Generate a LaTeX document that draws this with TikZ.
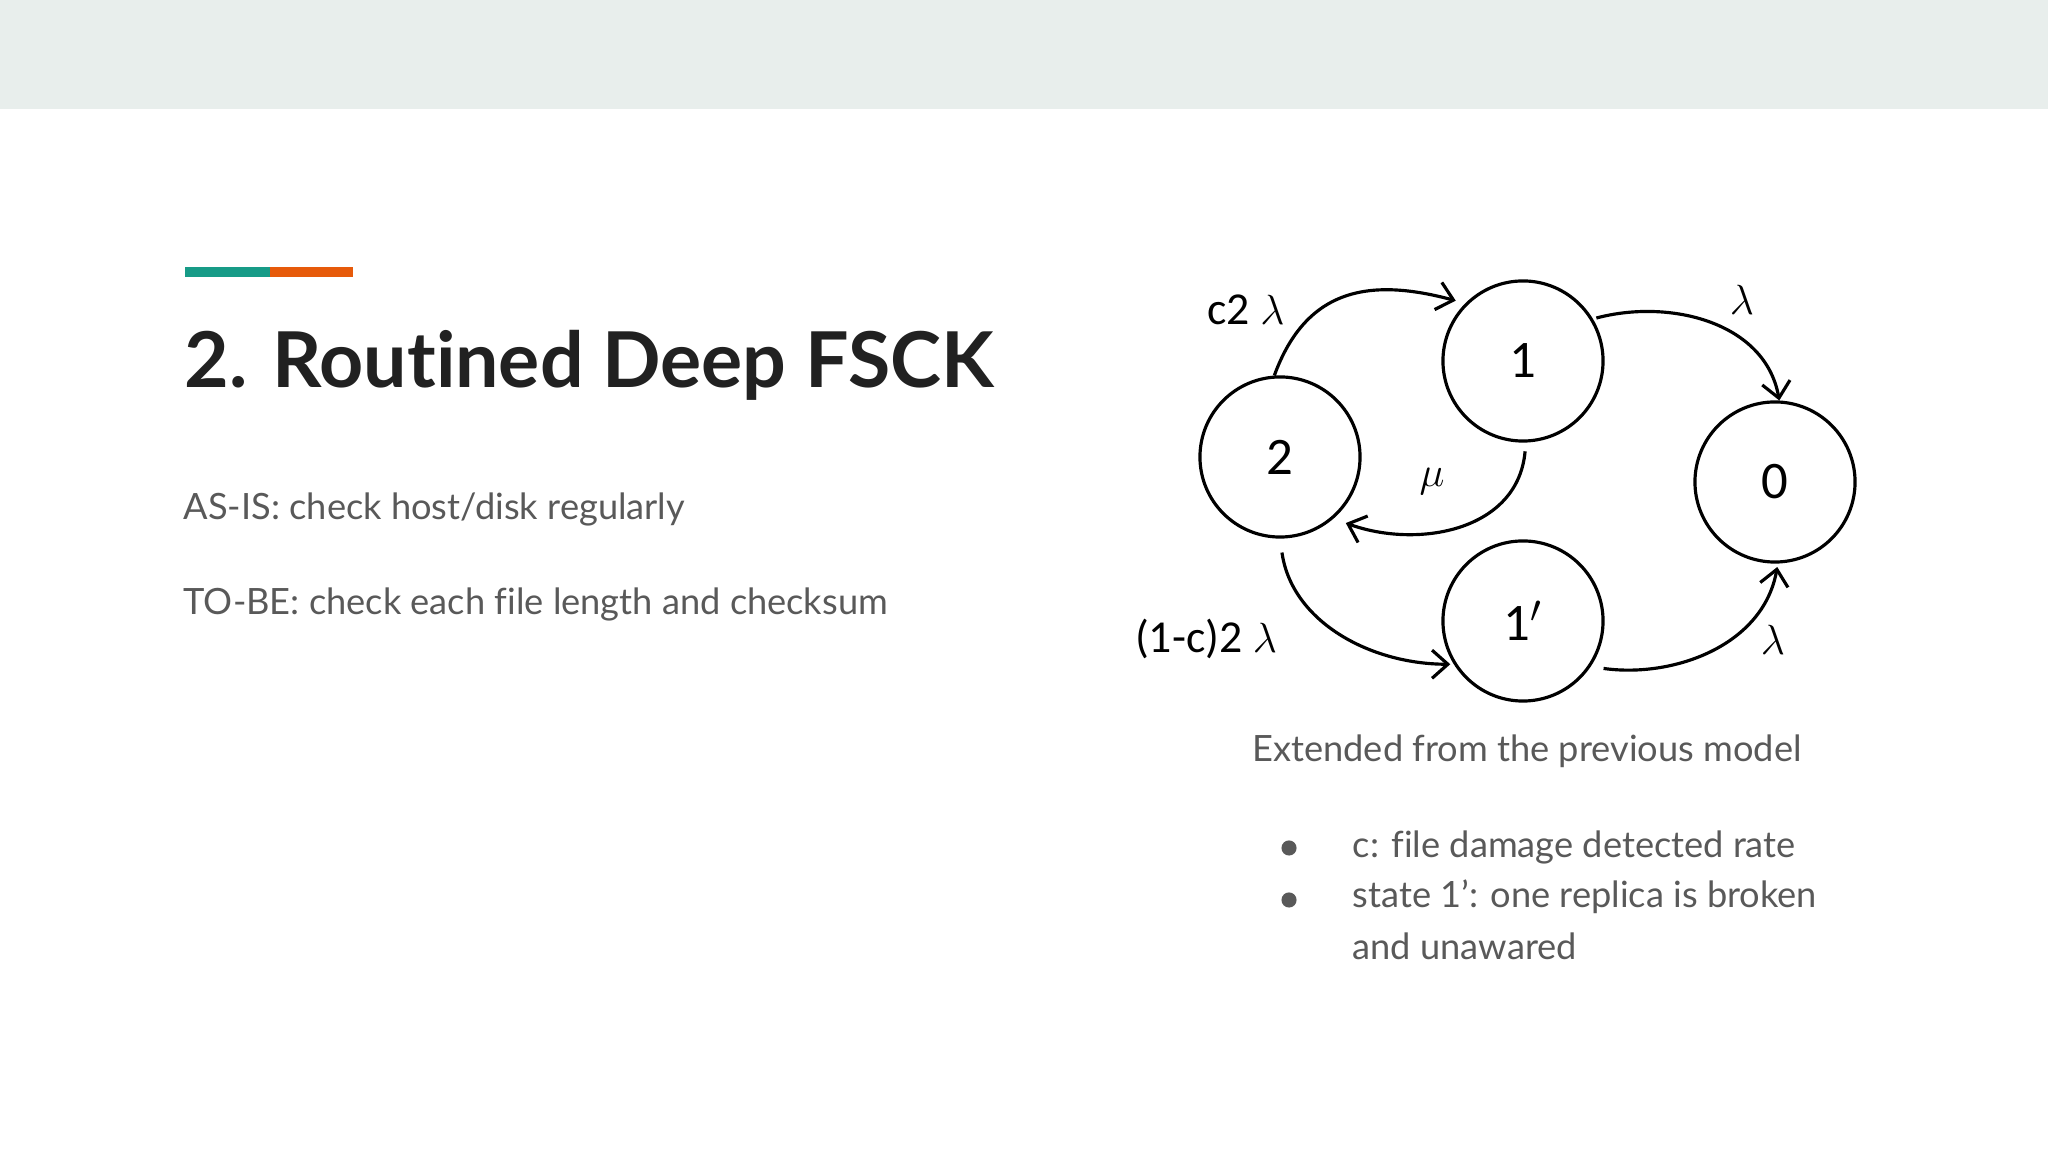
\documentclass[tikz,border=0pt]{standalone}
\usepackage{fontspec}
\setmainfont{Lato}[Ligatures=NoCommon]
\newfontfamily\diagfont{Carlito}
\usetikzlibrary{positioning,arrows.meta}
\definecolor{bandcol}  {RGB}{232,238,236}
\definecolor{tealcol}  {RGB}{23,155,135}
\definecolor{orangecol}{RGB}{230,90,10}
\definecolor{textcol}  {RGB}{89,89,89}
\definecolor{titlecol} {RGB}{33,33,33}

\begin{document}
\begin{tikzpicture}[x=0.01cm,y=0.01cm,
  stnode/.style={circle,draw,line width=0.9pt,minimum size=1.6cm,inner sep=0pt,
                 font=\diagfont\fontsize{15}{17}\selectfont},
  rate/.style={font=\diagfont\fontsize{13}{15}\selectfont,inner sep=1pt},
  body/.style={anchor=base west,inner sep=0pt,text=textcol,
               font=\fontsize{10.3}{12}\selectfont},
  dot/.style={circle,fill=textcol,minimum size=4.3pt,inner sep=0pt},
  arr/.style={-{Straight Barb[length=4.5pt,width=8pt]},line width=0.9pt},
  >=Stealth
]
\useasboundingbox (0,0) rectangle (2048,1152);
\fill[white] (0,0) rectangle (2048,1152);
\fill[bandcol] (0,1043) rectangle (2048,1152);
\fill[tealcol] (185,875) rectangle (270,885);
\fill[orangecol] (270,875) rectangle (353,885);

% slide text
\node[anchor=base west,inner sep=0pt,text=titlecol,font=\fontsize{21.9}{26}\selectfont\bfseries]
  (title) at (184,764) {2. Routined Deep FSCK};
\node[body] (asis) at (183,632) {AS-IS: check host/disk regularly};
\node[body] (tobe) at (183,537) {TO-BE: check each file length and checksum};

% Markov model
\node[stnode] (n2) at (1280,695) {2};
\node[stnode] (n1) at (1523,791) {1};
\node[stnode] (n0) at (1775,670) {0};
\node[stnode] (n1p) at (1523,531) {1$'$};

\draw[arr,shorten >=2.8pt] (n2.94) to[out=70,in=165,looseness=1.2] (n1.135);
\draw[arr,shorten <=1pt] (n1.31) to[out=15,in=100] (n0.87);
\draw[arr,shorten <=2.5pt,shorten >=3.7pt] (n1.-88) to[out=-95,in=-20,looseness=1.1] (n2.-49);
\draw[arr,shorten <=4pt,shorten >=1pt] (n2.-90) to[out=-82,in=180] (n1p.212);
\draw[arr,shorten <=3.7pt,shorten >=1pt] (n1p.-34) to[out=-8,in=-100] (n0.-88);

\node[rate] (l21) at (1246,842) {c2 $\lambda$};
\node[rate] (l10) at (1742,852) {$\lambda$};
\node[rate] (l12) at (1432,670) {$\mu$};
\node[rate] (l2p) at (1206,513) {(1-c)2 $\lambda$};
\node[rate] (lp0) at (1773,512) {$\lambda$};

% caption and notes
\node[body,anchor=base] (capt) at (1527,390) {Extended from the previous model};
\node[dot] (b1) at (1289,304) {};
\node[dot] (b2) at (1289,252) {};
\node[body] (t1) at (1352,294) {c: file damage detected rate};
\node[body] (t2) at (1352,244) {state 1’: one replica is broken};
\node[body] (t3) at (1352,192) {and unawared};
\end{tikzpicture}
\end{document}
